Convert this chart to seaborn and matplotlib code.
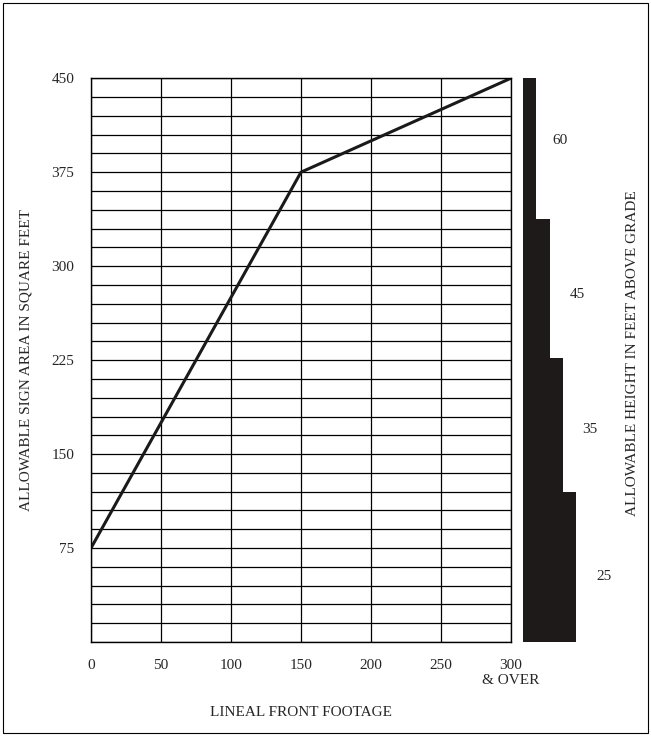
import matplotlib
matplotlib.use("Agg")
import matplotlib.pyplot as plt
import numpy as np
import pandas as pd
import seaborn as sns
from matplotlib.patches import Rectangle

sns.set_theme(style="white")
plt.rcParams["font.family"] = ["Liberation Serif", "DejaVu Serif"]

footage = [0, 150, 300]
sign_area = [75, 375, 450]
x_ticks = [0, 50, 100, 150, 200, 250, 300]
x_tick_labels = ["0", "50", "100", "150", "200", "250", "300\n& OVER"]
y_ticks = [75, 150, 225, 300, 375, 450]

# height bands: sign-area range (bottom, top) and allowed height
band_bottom = [0, 120, 227, 338]
band_top = [120, 227, 338, 450]
band_width = [4, 3, 2, 1]
band_height = ["25", "35", "45", "60"]

fig = plt.figure(figsize=(6.51, 7.36), dpi=100)
fig.patches.append(Rectangle((0.004, 0.004), 0.992, 0.992, transform=fig.transFigure,
                             fill=False, edgecolor="black", linewidth=0.8))

ax = fig.add_axes([0.1398, 0.1277, 0.645, 0.766])
df = pd.DataFrame({"footage": footage, "area": sign_area})
sns.lineplot(data=df, x="footage", y="area", color="#1a1a1a", linewidth=2.2, ax=ax)
ax.set_xlim(0, 300)
ax.set_ylim(0, 450)
ax.set_xticks(x_ticks)
ax.set_xticklabels(x_tick_labels, fontsize=11)
ax.set_yticks(np.arange(0, 451, 15), minor=True)
ax.set_yticks(y_ticks)
ax.set_yticklabels([str(v) for v in y_ticks], fontsize=11)
ax.grid(True, which="both", color="black", linewidth=0.9)
ax.set_axisbelow(True)
for s in ax.spines.values():
    s.set_color("black")
    s.set_linewidth(1.0)
ax.tick_params(length=0, pad=12)
ax.set_xlabel("LINEAL FRONT FOOTAGE", fontsize=11, labelpad=14)
ax.set_ylabel("ALLOWABLE SIGN AREA IN SQUARE FEET", fontsize=11, labelpad=14)

ax2 = fig.add_axes([0.8034, 0.1277, 0.0814 * 1.25, 0.766])
ax2.barh([(b + t) / 2 for b, t in zip(band_bottom, band_top)], band_width,
         height=[t - b for b, t in zip(band_bottom, band_top)],
         color="#1f1a1a", edgecolor="none")
ax2.set_xlim(0, 5)
ax2.set_ylim(0, 450)
label_pos = [(5.5, 52), (4.5, 170), (3.5, 277), (2.2, 400)]
for (lx, ly), txt in zip(label_pos, band_height):
    ax2.text(lx, ly, txt, fontsize=11, ha="left", va="center", transform=ax2.transData)
ax2.axis("off")

fig.text(0.971, 0.52, "ALLOWABLE HEIGHT IN FEET ABOVE GRADE", rotation=90,
         ha="center", va="center", fontsize=11)

fig.savefig("out.png", dpi=100)
